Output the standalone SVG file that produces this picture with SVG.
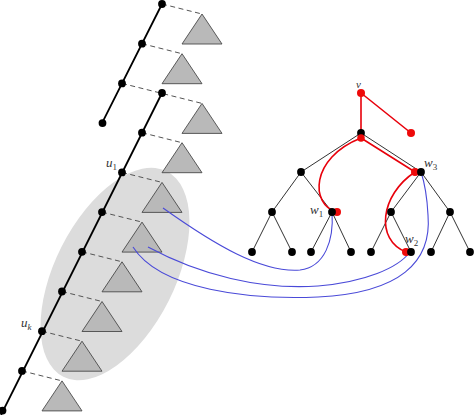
<svg xmlns="http://www.w3.org/2000/svg" width="474" height="415" viewBox="0 0 474 415">
<style>
.spine{stroke:#000;stroke-width:1.8;fill:none}
.dash{stroke:#555;stroke-width:1;stroke-dasharray:5,3.5;fill:none}
.tri{fill:#b9b9b9;stroke:#4a4a4a;stroke-width:0.9}
.edge{stroke:#333;stroke-width:1;fill:none}
.red{stroke:#e8000b;stroke-width:1.6;fill:none}
.blue{stroke:#4a4ad8;stroke-width:1.1;fill:none}
.bn{fill:#000}
.rn{fill:#ee0a0a}
.lbl{font-family:"Liberation Serif","DejaVu Serif",serif;font-style:italic;font-size:13px;fill:#333}
.sub{font-family:"Liberation Serif","DejaVu Serif",serif;font-size:9px;fill:#333}
</style>
<ellipse id="region" cx="115" cy="274" rx="60" ry="115" transform="rotate(26.7 115 274)" fill="#dcdcdc"/>
<g id="connectors">
<path class="dash" d="M162,4 L202,14 M142,43.7 L182,53.7 M122,83.4 L202,103.4 M142,132.7 L182,142.7 M122,172.4 L162,182.4 M102,212.1 L142,222.1 M82,251.8 L122,261.8 M62,291.5 L102,301.5 M42,331.2 L82,341.2 M22,370.9 L62,380.9"/>
<path class="spine" d="M162,4 L102,123.1 M162,93 L1,415"/>
</g>
<g id="triangles">
<polygon id="t1" class="tri" points="202,14 182,44 222,44"/>
<polygon id="t2" class="tri" points="182,53.7 162,83.7 202,83.7"/>
<polygon id="t3" class="tri" points="202,103.4 182,133.4 222,133.4"/>
<polygon id="t4" class="tri" points="182,142.7 162,172.7 202,172.7"/>
<polygon id="t5" class="tri" points="162,182.4 142,212.4 182,212.4"/>
<polygon id="t6" class="tri" points="142,222.1 122,252.1 162,252.1"/>
<polygon id="t7" class="tri" points="122,261.8 102,291.8 142,291.8"/>
<polygon id="t8" class="tri" points="102,301.5 82,331.5 122,331.5"/>
<polygon id="t9" class="tri" points="82,341.2 62,371.2 102,371.2"/>
<polygon id="t10" class="tri" points="62,380.9 42,410.9 82,410.9"/>
</g>
<g id="spine-nodes">
<circle id="a0" class="bn" cx="162" cy="4" r="3.9"/>
<circle id="a1" class="bn" cx="142" cy="43.7" r="3.9"/>
<circle id="a2" class="bn" cx="122" cy="83.4" r="3.9"/>
<circle id="a3" class="bn" cx="102.5" cy="123.1" r="3.9"/>
<circle id="b0" class="bn" cx="162" cy="93" r="3.9"/>
<circle id="b1" class="bn" cx="142" cy="132.7" r="3.9"/>
<circle id="u1" class="bn" cx="122" cy="172.4" r="3.9"/>
<circle id="b3" class="bn" cx="102" cy="212.1" r="3.9"/>
<circle id="b4" class="bn" cx="82" cy="251.8" r="3.9"/>
<circle id="b5" class="bn" cx="62" cy="291.5" r="3.9"/>
<circle id="uk" class="bn" cx="42" cy="331.2" r="3.9"/>
<circle id="b7" class="bn" cx="22" cy="370.9" r="3.9"/>
<circle id="b8" class="bn" cx="2.5" cy="410.6" r="3.9"/>
</g>
<g id="tree-edges">
<path class="edge" d="M361,133 L301,172 M361,133 L421,172 M301,172 L272,212 M301,172 L332,212 M421,172 L391,212 M421,172 L450,212 M272,212 L252,252 M272,212 L292,252 M332,212 L311,252 M332,212 L351,252 M391,212 L371,252 M391,212 L411,252 M450,212 L431,252 M450,212 L470,252"/>
</g>
<g id="blue-paths">
<path class="blue" d="M163,208 C215,245 262,273 300,270 C325,267 334,240 332,212"/>
<path class="blue" d="M148,247 C200,275 260,290 318,286 C365,282 398,268 410,252"/>
<path class="blue" d="M133,247 C160,290 250,300 318,297 C400,293 432,262 428,215 C427,195 424,181 421,172"/>
</g>
<g id="red-paths">
<path class="red" d="M361,93 L361,138 M361,93 L411,133 M361,138 L415,172"/>
<path class="red" d="M361,138 C310,158 310,205 337,212"/>
<path class="red" d="M415,172 C380,195 375,240 406,252"/>
</g>
<g id="red-nodes">
<circle id="v" class="rn" cx="361" cy="93" r="4"/>
<circle id="r1" class="rn" cx="411" cy="133" r="4"/>
<circle id="w1r" class="rn" cx="337" cy="212" r="4"/>
<circle id="w2r" class="rn" cx="406" cy="252" r="4"/>
<circle id="w3r" class="rn" cx="415" cy="172" r="4"/>
</g>
<g id="tree-nodes">
<circle id="root" class="bn" cx="361" cy="133" r="3.9"/>
<circle id="n21" class="bn" cx="301" cy="172" r="3.9"/>
<circle id="w3" class="bn" cx="421" cy="172" r="3.9"/>
<circle id="n31" class="bn" cx="272" cy="212" r="3.9"/>
<circle id="w1" class="bn" cx="332" cy="212" r="3.9"/>
<circle id="n33" class="bn" cx="391" cy="212" r="3.9"/>
<circle id="n34" class="bn" cx="450" cy="212" r="3.9"/>
<circle id="l1" class="bn" cx="252" cy="252" r="3.9"/>
<circle id="l2" class="bn" cx="292" cy="252" r="3.9"/>
<circle id="l3" class="bn" cx="311" cy="252" r="3.9"/>
<circle id="l4" class="bn" cx="351" cy="252" r="3.9"/>
<circle id="l5" class="bn" cx="371" cy="252" r="3.9"/>
<circle id="w2" class="bn" cx="411" cy="252" r="3.9"/>
<circle id="l7" class="bn" cx="431" cy="252" r="3.9"/>
<circle id="l8" class="bn" cx="470" cy="252" r="3.9"/>
<circle id="rootr" class="rn" cx="361" cy="138" r="3.8"/>
</g>
<g id="labels">
<text class="lbl" x="356" y="88" style="font-size:11px">v</text>
<text class="lbl" x="106" y="167">u<tspan class="sub" dy="3" style="font-style:normal">1</tspan></text>
<text class="lbl" x="21" y="327">u<tspan class="sub" dy="3">k</tspan></text>
<text class="lbl" x="310" y="214">w<tspan class="sub" dy="3" style="font-style:normal">1</tspan></text>
<text class="lbl" x="405" y="243">w<tspan class="sub" dy="3" style="font-style:normal">2</tspan></text>
<text class="lbl" x="424" y="167">w<tspan class="sub" dy="3" style="font-style:normal">3</tspan></text>
</g>
</svg>
